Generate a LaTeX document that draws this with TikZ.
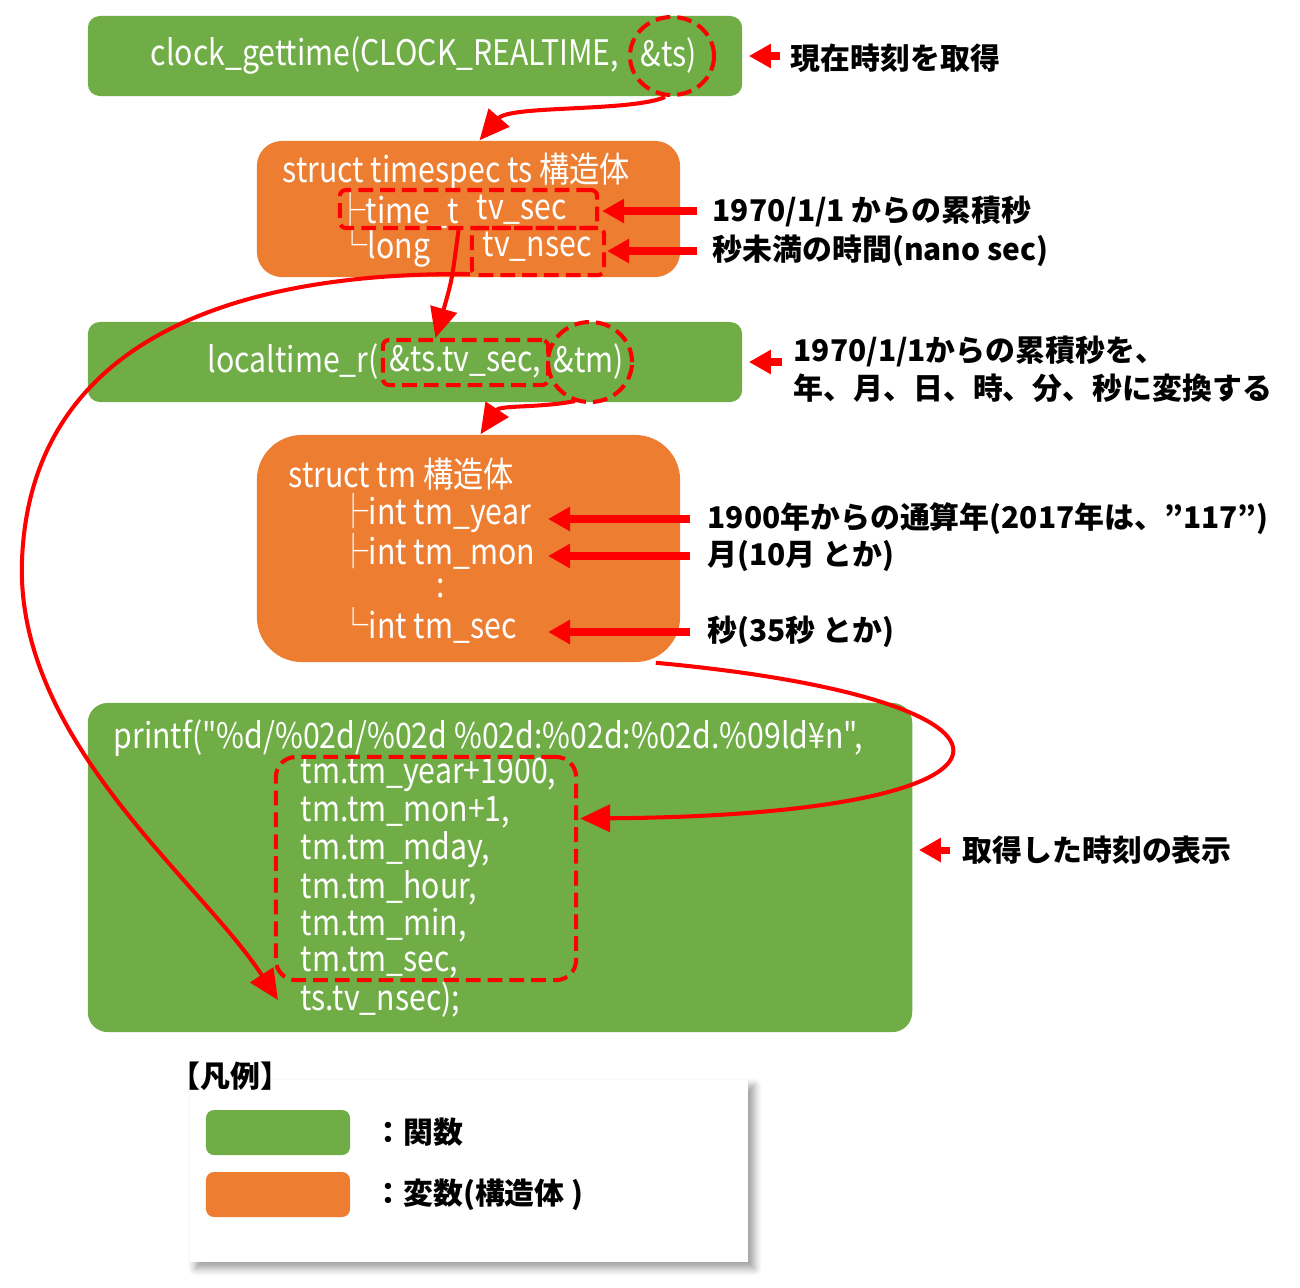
\documentclass[tikz,border=0pt]{standalone}
\usepackage{fontspec}
\setmainfont{Noto Sans CJK JP}
\newfontfamily\codefont{Noto Sans CJK JP}[FakeStretch=0.86]
\usepackage{tikz}
\usetikzlibrary{arrows.meta,positioning,shapes.geometric,shadows.blur}

\definecolor{funcgreen}{HTML}{70AD47}
\definecolor{structorange}{HTML}{ED7D31}
\definecolor{hotred}{HTML}{FF0000}

\tikzset{
  funcbox/.style={fill=funcgreen,rounded corners=0.12cm},
  structbox/.style={fill=structorange,rounded corners=0.25cm},
  code/.style={text=white,inner sep=0pt,anchor=west,
    font=\codefont\fontsize{10}{12}\selectfont},
  note/.style={inner sep=0pt,anchor=west,align=left,
    font=\bfseries\fontsize{8.5}{10.8}\selectfont},
  hilite/.style={draw=hotred,line width=1.15pt,dash pattern=on 4.2pt off 2pt},
  flow/.style={draw=hotred,line width=1.15pt,
    -{Triangle[length=0.3cm,width=0.27cm]}},
  pointer/.style={draw=hotred,line width=2pt,
    -{Triangle[length=0.22cm,width=0.23cm]}},
}

\begin{document}
\begin{tikzpicture}[x=0.01cm,y=-0.01cm]
  \useasboundingbox (0,0) rectangle (1300,1287);

  % boxes
  \node[funcbox,minimum width=6.54cm,minimum height=0.8cm] (gettime) at (415,56) {};
  \node[structbox,minimum width=4.23cm,minimum height=1.36cm] (tsbox) at (468.5,209) {};
  \node[funcbox,minimum width=6.54cm,minimum height=0.8cm] (localtime) at (415,362) {};
  \node[structbox,rounded corners=0.45cm,minimum width=4.23cm,minimum height=2.27cm] (tmbox) at (468.5,548.5) {};
  \node[funcbox,rounded corners=0.2cm,minimum width=8.24cm,minimum height=3.29cm] (printf) at (500,867.5) {};

  % code text
  \begin{scope}[every node/.style={code}]
    \node (gtcall) at (150,56) {clock\_gettime(CLOCK\_REALTIME,};
    \node (tsarg) at (640,56) {\&ts)};

    \node (tshead) at (282,172) {struct timespec ts 構造体};
    \node (tvsectype) at (335,210) {├time\_t};
    \node (tvsecname) at (476,210) {tv\_sec};
    \node (tvnsectype) at (337,247) {└long};
    \node (tvnsecname) at (482,247) {tv\_nsec};

    \node (ltcall) at (207,362) {localtime\_r(};
    \node (secarg) at (389,362) {\&ts.tv\_sec,};
    \node (tmarg) at (553,362) {\&tm)};

    \node (tmhead) at (288,474) {struct tm 構造体};
    \node (tmyear) at (338,513) {├int tm\_year};
    \node (tmmon) at (338,551) {├int tm\_mon};
    \node (tmdots) at (436,588) {:};
    \node (tmsec) at (338,625) {└int tm\_sec};

    \node (fmt) at (113,738) {printf("\%d/\%02d/\%02d \%02d:\%02d:\%02d.\%09ld¥n",};
    \foreach \arg [count=\i] in {{tm.tm\_year+1900,},{tm.tm\_mon+1,},{tm.tm\_mday,},
        {tm.tm\_hour,},{tm.tm\_min,},{tm.tm\_sec,},{ts.tv\_nsec);}}
      \node (arg\i) at (300,737.5+37.5*\i) {\arg};
  \end{scope}

  % highlights
  \node[hilite,ellipse,minimum width=0.84cm,minimum height=0.78cm] (tsring) at (672,56) {};
  \node[hilite,rounded corners=0.06cm,minimum width=2.57cm,minimum height=0.38cm] (secbox) at (468.5,209) {};
  \node[hilite,rounded corners=0.06cm,minimum width=1.32cm,minimum height=0.47cm] (nsecbox) at (538,251.5) {};
  \node[hilite,rounded corners=0.06cm,minimum width=1.65cm,minimum height=0.45cm] (ltsec) at (465.5,362.5) {};
  \node[hilite,ellipse,minimum width=0.84cm,minimum height=0.8cm] (tmring) at (590,362) {};
  \node[hilite,rounded corners=0.2cm,minimum width=3cm,minimum height=2.23cm] (argbox) at (426,868.5) {};

  % notes
  \node[note] (nownote) at (790,58) {現在時刻を取得};
  \node[note] (secnote) at (712,211) {1970/1/1 からの累積秒};
  \node[note] (nsecnote) at (712,251) {秒未満の時間(nano sec)};
  \node[note] (convnote) at (793,369) {1970/1/1からの累積秒を、\\年、月、日、時、分、秒に変換する};
  \node[note] (yearnote) at (707,519) {1900年からの通算年(2017年は、”117”)};
  \node[note] (monnote) at (707,556) {月(10月 とか)};
  \node[note] (secsnote) at (707,632) {秒(35秒 とか)};
  \node[note] (shownote) at (962,850) {取得した時刻の表示};
  \coordinate (tmtip) at (548,0);

  \draw[pointer] ([xshift=-0.1cm]nownote.west |- gettime.east) -- ([xshift=0.06cm]gettime.east);
  \draw[pointer] ([xshift=-0.15cm]secnote.west) -- ([xshift=0.03cm]secnote.west -| secbox.east);
  \draw[pointer] ([xshift=-0.15cm]nsecnote.west) -- ([xshift=0.01cm]nsecnote.west -| nsecbox.east);
  \draw[pointer] ([xshift=-0.11cm]convnote.west |- localtime.east) -- ([xshift=0.06cm]localtime.east);
  \draw[pointer] ([xshift=-0.17cm]yearnote.west) -- (yearnote.west -| tmtip);
  \draw[pointer] ([xshift=-0.17cm]monnote.west) -- (monnote.west -| tmtip);
  \draw[pointer] ([xshift=-0.17cm]secsnote.west) -- (secsnote.west -| tmtip);
  \draw[pointer] ([xshift=-0.12cm]shownote.west) -- ([xshift=0.06cm]shownote.west -| printf.east);

  % flow
  \draw[flow] ([xshift=-0.07cm]tsring.south) .. controls (630,112) and (510,105) .. ([xshift=0.11cm]tsbox.north);
  \draw[flow] ([xshift=-0.1cm]secbox.south) .. controls (452,280) .. ([xshift=-0.3cm]ltsec.north);
  \draw[flow] ([yshift=0.03cm]nsecbox.south west) .. controls (200,272) and (30,360) .. (22,560)
    .. controls (15,740) and (200,880) .. ([xshift=-0.22cm]arg7.west);
  \draw[flow] ([xshift=-0.15cm,yshift=0.03cm]tmring.south) .. controls (540,408) and (500,405) .. ([xshift=0.12cm]tmbox.north);
  \draw[flow] ([xshift=-0.25cm]tmbox.south east) .. controls (1060,700) and (1060,815) .. ([xshift=0.02cm,yshift=0.5cm]argbox.east);

  % legend
  \node[fill=white,blur shadow={shadow xshift=0.06cm,shadow yshift=-0.06cm,shadow blur steps=6},
    minimum width=5.58cm,minimum height=1.82cm] (legend) at (469,1171) {};
  \node[note] (legendhead) at (170,1076) {【凡例】};
  \node[funcbox,rounded corners=0.08cm,minimum width=1.44cm,minimum height=0.45cm] (funckey) at (278,1132.5) {};
  \node[structbox,rounded corners=0.08cm,minimum width=1.44cm,minimum height=0.45cm] (structkey) at (278,1194.5) {};
  \node[note,right=0.22cm of funckey] (funcnote) {：関数};
  \node[note,right=0.22cm of structkey] (structnote) {：変数(構造体 )};
\end{tikzpicture}
\end{document}
